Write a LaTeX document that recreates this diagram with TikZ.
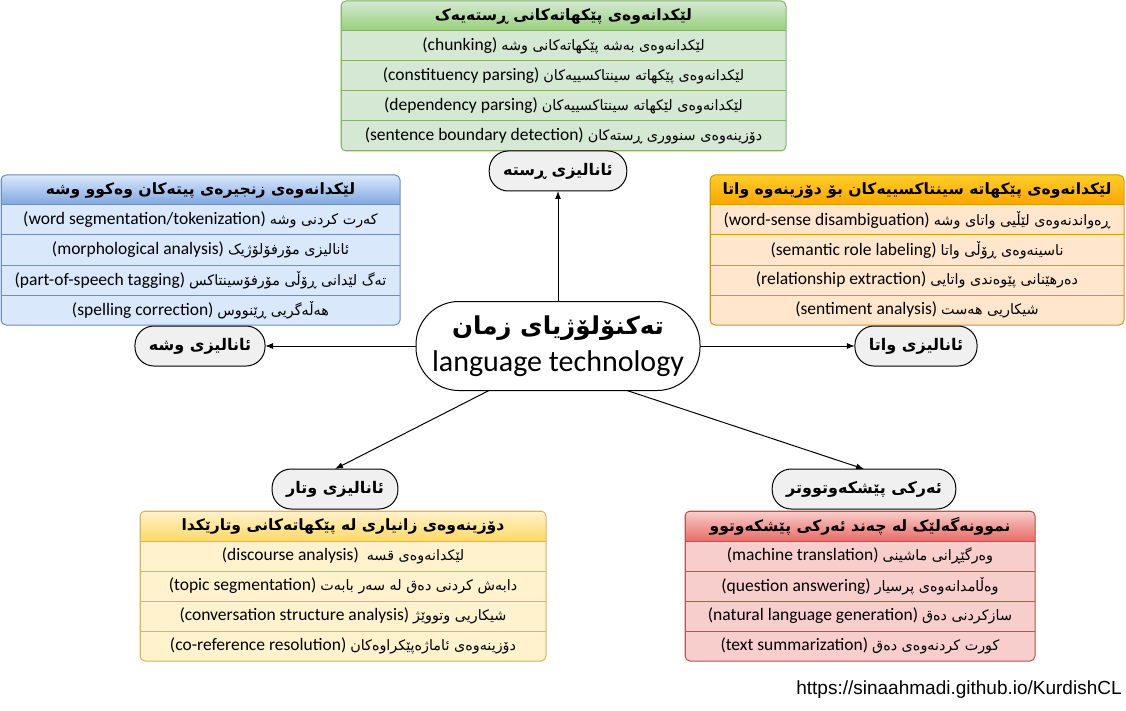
\documentclass[tikz,border=0pt]{standalone}
\usepackage{fontspec}
\setmainfont{Carlito}
\newfontfamily\arfont[Script=Arabic,Scale=0.82]{DejaVu Sans}
\newfontfamily\webfont{Liberation Sans}
\TeXXeTstate=1
\usetikzlibrary{positioning}
\usetikzlibrary{arrows.meta}

\newcommand{\kur}[1]{{\arfont\beginR#1\endR}}

\definecolor{grline}{HTML}{82B366}
\definecolor{grrow}{HTML}{D5E8D4}
\definecolor{grbot}{HTML}{97D077}
\definecolor{blline}{HTML}{6C8EBF}
\definecolor{blrow}{HTML}{DAE8FC}
\definecolor{blbot}{HTML}{7EA6E0}
\definecolor{orline}{HTML}{D79B00}
\definecolor{orrow}{HTML}{FFE6CC}
\definecolor{ortop}{HTML}{FFCD28}
\definecolor{orbot}{HTML}{FFA500}
\definecolor{yeline}{HTML}{D6B656}
\definecolor{yerow}{HTML}{FFF2CC}
\definecolor{yebot}{HTML}{FFD966}
\definecolor{reline}{HTML}{B85450}
\definecolor{rerow}{HTML}{F8CECC}
\definecolor{rebot}{HTML}{EA6B66}

\begin{document}
\begin{tikzpicture}
    [
    x=1pt, y=-1pt, line width=1pt,
    every node/.style={inner sep=0pt, outer sep=0pt},
    head/.style={minimum height=30pt, font=\fontsize{19}{21}\selectfont\bfseries},
    row/.style={minimum height=30pt, font=\fontsize{17.5}{20}\selectfont},
    tag/.style={draw, fill=black!6, rounded corners=19pt, minimum height=40pt,
      inner xsep=14pt, font=\fontsize{19.5}{22}\selectfont\bfseries},
    hub/.style={draw, fill=white, rounded corners=43pt, minimum width=284pt,
      minimum height=89pt, align=center, font=\fontsize{30}{37}\selectfont},
    senthead/.style={head, top color=grrow, bottom color=grbot, draw=grline, minimum width=445pt},
    sentrow/.style={row, fill=grrow, draw=grline, minimum width=445pt},
    wordhead/.style={head, top color=blrow, bottom color=blbot, draw=blline, minimum width=399pt},
    wordrow/.style={row, fill=blrow, draw=blline, minimum width=399pt},
    semhead/.style={head, top color=ortop, bottom color=orbot, draw=orline, minimum width=414pt},
    semrow/.style={row, fill=orrow, draw=orline, minimum width=414pt},
    dischead/.style={head, top color=yerow, bottom color=yebot, draw=yeline, minimum width=406pt},
    discrow/.style={row, fill=yerow, draw=yeline, minimum width=406pt},
    advhead/.style={head, top color=rerow, bottom color=rebot, draw=reline, minimum width=350pt},
    advrow/.style={row, fill=rerow, draw=reline, minimum width=350pt},
    ]
    \useasboundingbox (0,0) rectangle (1126,711);

    \begin{scope}
    \clip [rounded corners=5pt] (341,1) rectangle (786,151);
    \node (s0) at (563.5,16) [senthead] {\kur{لێکدانەوەی پێکهاتەکانی ڕستەیەک}};
    \node (s1) [sentrow, below=0pt of s0] {(chunking) \kur{لێکدانەوەی بەشە پێکهاتەکانی وشە}};
    \node (s2) [sentrow, below=0pt of s1] {(constituency parsing) \kur{لێکدانەوەی پێکهاتە سینتاکسییەکان}};
    \node (s3) [sentrow, below=0pt of s2] {(dependency parsing) \kur{لێکدانەوەی لێکهاتە سینتاکسییەکان}};
    \node (s4) [sentrow, below=0pt of s3] {(sentence boundary detection) \kur{دۆزینەوەی سنووری ڕستەکان}};
    \end{scope}
    \draw [grline, rounded corners=5pt] (s0.north west) rectangle (s4.south east);

    \begin{scope}
    \clip [rounded corners=5pt] (1,175) rectangle (400,325);
    \node (w0) at (200.5,190) [wordhead] {\kur{لێکدانەوەی زنجیرەی پیتەکان وەکوو وشە}};
    \node (w1) [wordrow, below=0pt of w0] {(word segmentation/tokenization) \kur{کەرت کردنی وشە}};
    \node (w2) [wordrow, below=0pt of w1] {(morphological analysis) \kur{ئانالیزی مۆرفۆلۆژیک}};
    \node (w3) [wordrow, below=0pt of w2] {(part-of-speech tagging) \kur{تەگ لێدانی ڕۆڵی مۆرفۆسینتاکس}};
    \node (w4) [wordrow, below=0pt of w3] {(spelling correction) \kur{هەڵەگریی ڕێنووس}};
    \end{scope}
    \draw [blline, rounded corners=5pt] (w0.north west) rectangle (w4.south east);

    \begin{scope}
    \clip [rounded corners=5pt] (710,175) rectangle (1124,325);
    \node (m0) at (917,190) [semhead] {\kur{لێکدانەوەی پێکهاتە سینتاکسییەکان بۆ دۆزینەوە واتا}};
    \node (m1) [semrow, below=0pt of m0] {(word-sense disambiguation) \kur{ڕەواندنەوەی لێڵیی واتای وشە}};
    \node (m2) [semrow, below=0pt of m1] {(semantic role labeling) \kur{ناسینەوەی ڕۆڵی واتا}};
    \node (m3) [semrow, below=0pt of m2] {(relationship extraction) \kur{دەرهێنانی پێوەندی واتایی}};
    \node (m4) [semrow, below=0pt of m3] {(sentiment analysis) \kur{شیکاریی هەست}};
    \end{scope}
    \draw [orline, rounded corners=5pt] (m0.north west) rectangle (m4.south east);

    \begin{scope}
    \clip [rounded corners=5pt] (140,511) rectangle (546,661);
    \node (d0) at (343,526) [dischead] {\kur{دۆزینەوەی زانیاری لە پێکهاتەکانی وتارێکدا}};
    \node (d1) [discrow, below=0pt of d0] {(discourse analysis)\ \ \kur{لێکدانەوەی قسە}};
    \node (d2) [discrow, below=0pt of d1] {(topic segmentation) \kur{دابەش کردنی دەق لە سەر بابەت}};
    \node (d3) [discrow, below=0pt of d2] {(conversation structure analysis) \kur{شیکاریی وتووێژ}};
    \node (d4) [discrow, below=0pt of d3] {(co-reference resolution) \kur{دۆزینەوەی ئاماژەپێکراوەکان}};
    \end{scope}
    \draw [yeline, rounded corners=5pt] (d0.north west) rectangle (d4.south east);

    \begin{scope}
    \clip [rounded corners=5pt] (685,511) rectangle (1035,661);
    \node (a0) at (860,526) [advhead] {\kur{نموونەگەلێک لە چەند ئەرکی پێشکەوتوو}};
    \node (a1) [advrow, below=0pt of a0] {(machine translation) \kur{وەرگێڕانی ماشینی}};
    \node (a2) [advrow, below=0pt of a1] {(question answering) \kur{وەڵامدانەوەی پرسیار}};
    \node (a3) [advrow, below=0pt of a2] {(natural language generation) \kur{سازکردنی دەق}};
    \node (a4) [advrow, below=0pt of a3] {(text summarization) \kur{کورت کردنەوەی دەق}};
    \end{scope}
    \draw [reline, rounded corners=5pt] (a0.north west) rectangle (a4.south east);

    \node (hub) at (558,346) [hub] {\kur{\bfseries تەکنۆلۆژیای زمان}\\language technology};
    \node (sent) at (558,171) [tag] {\kur{ئانالیزی ڕستە}};
    \node (word) at (200,346) [tag] {\kur{ئانالیزی وشە}};
    \node (sem) at (916,346) [tag] {\kur{ئانالیزی واتا}};
    \node (disc) at (335,489) [tag] {\kur{ئانالیزی وتار}};
    \node (adv) at (864,489) [tag] {\kur{ئەرکی پێشکەوتووتر}};

    \draw [-{Latex[length=8pt,width=6pt]}] (hub) to (sent);
    \draw [-{Latex[length=8pt,width=6pt]}] (hub) to (word);
    \draw [-{Latex[length=8pt,width=6pt]}] (hub) to (sem);
    \draw [-{Latex[length=8pt,width=6pt]}] ([xshift=-69pt]hub.south) to (disc.north);
    \draw [-{Latex[length=8pt,width=6pt]}] ([xshift=69pt]hub.south) to (adv.north);

    \node (url) at (959,690) [font=\webfont\fontsize{19}{22}\selectfont] {https://sinaahmadi.github.io/KurdishCL};
  \end{tikzpicture}
\end{document}
